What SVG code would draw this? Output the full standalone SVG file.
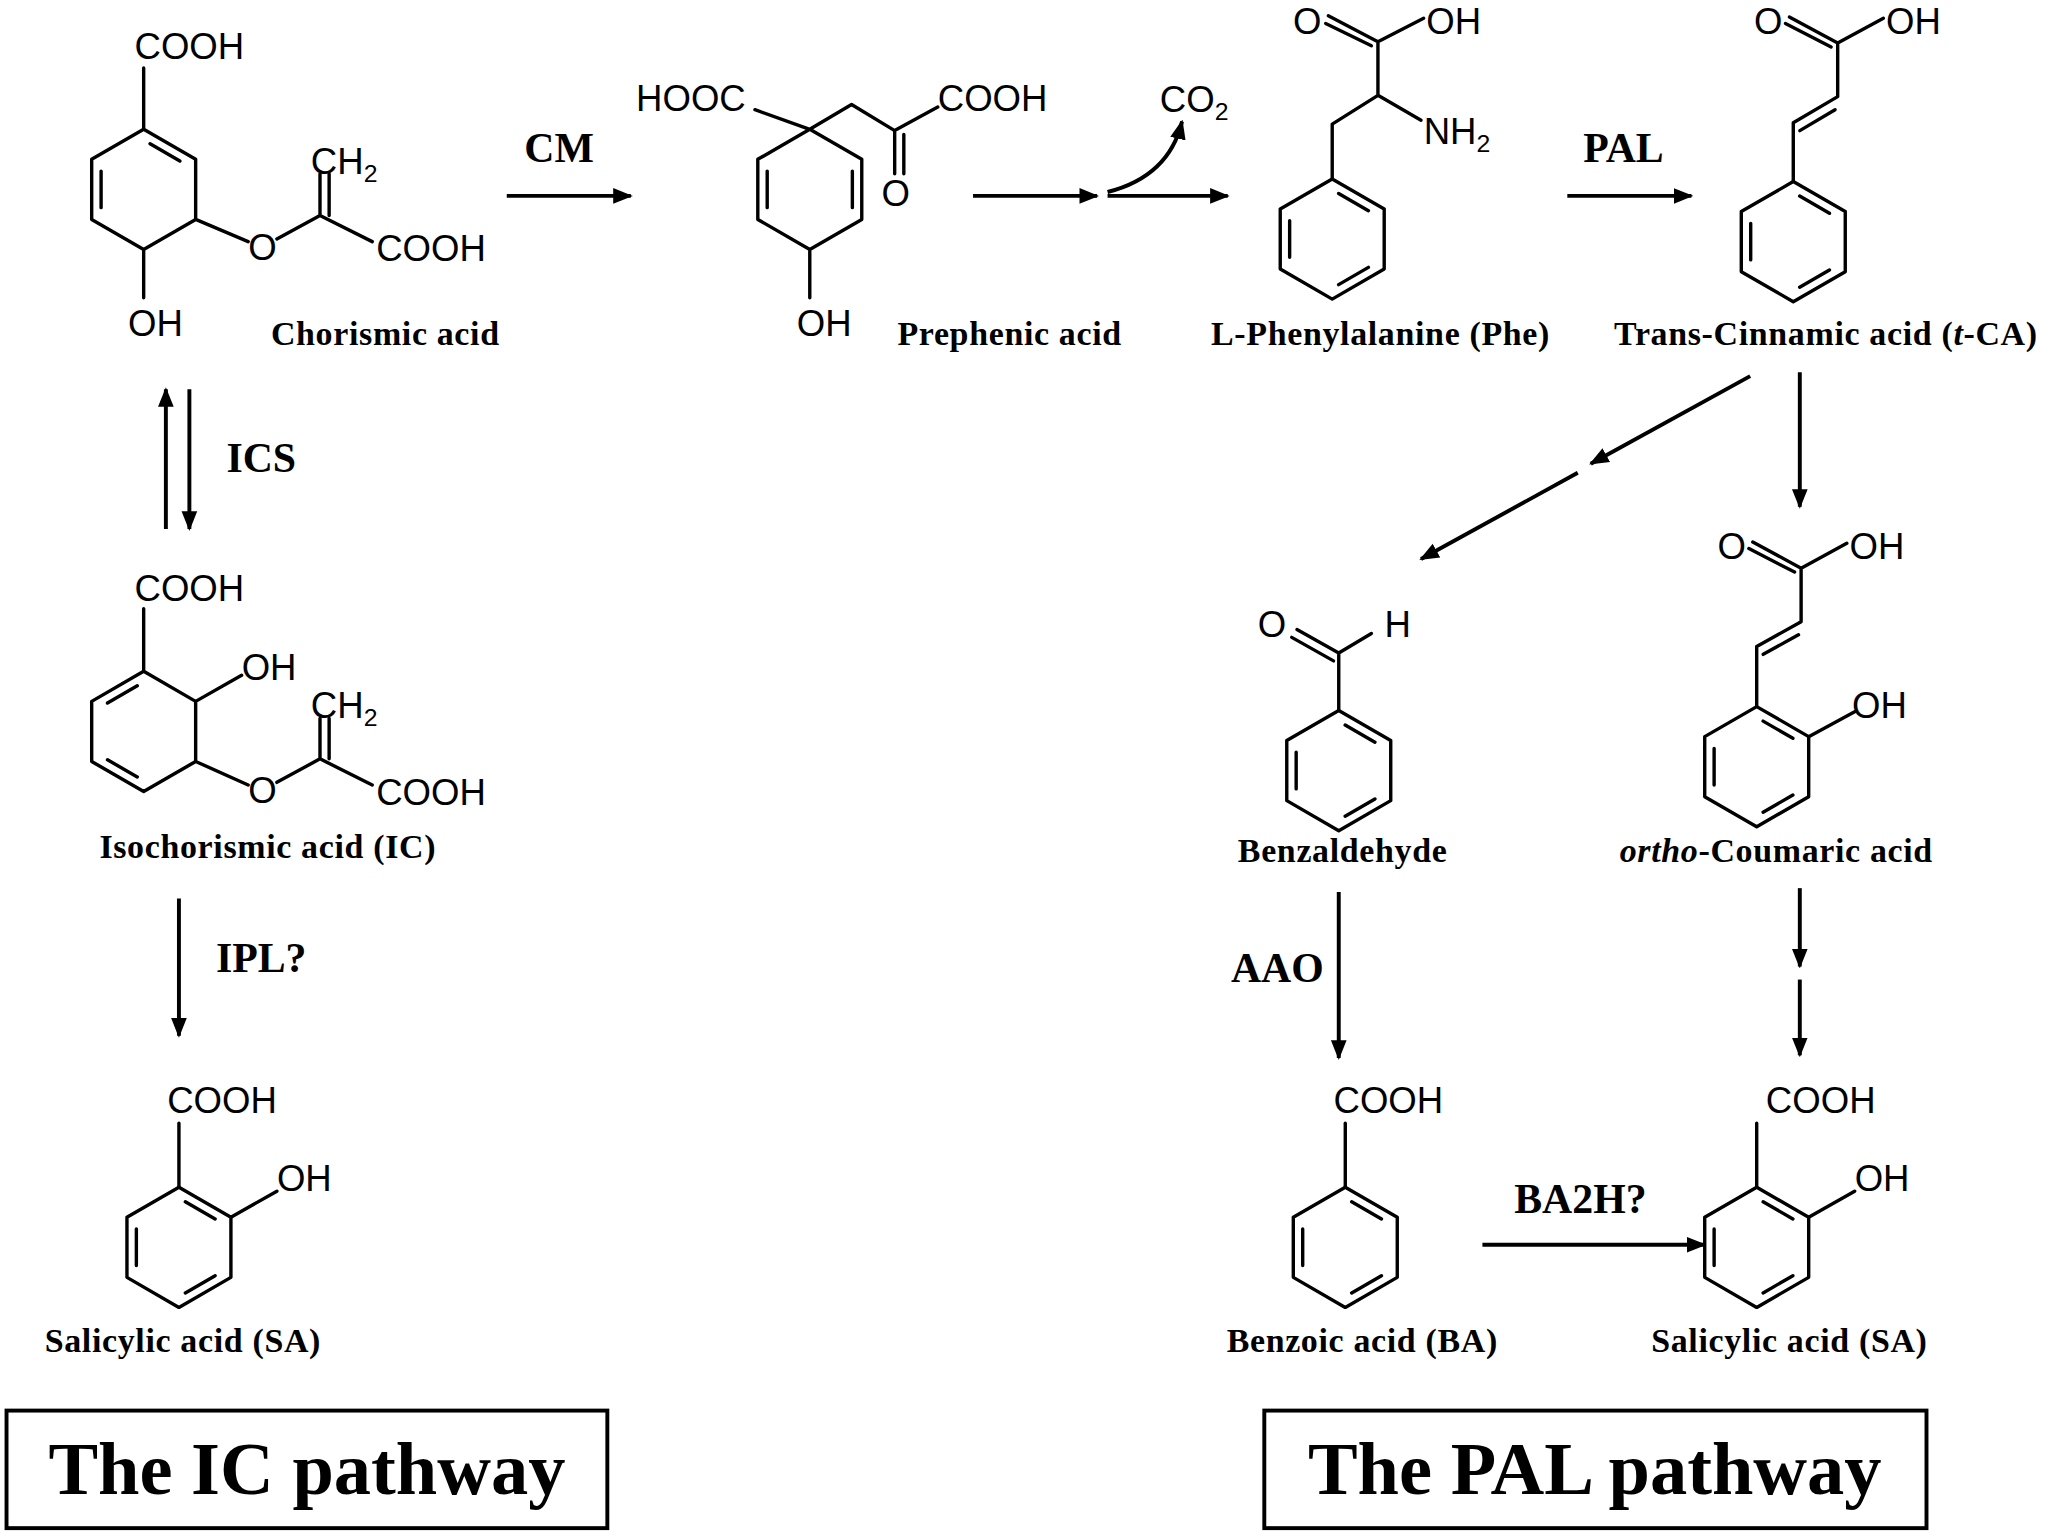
<svg xmlns="http://www.w3.org/2000/svg" xmlns:xlink="http://www.w3.org/1999/xlink" width="2048" height="1536" viewBox="0 0 2048 1536">
<style>
.b{fill:none;stroke:#000;stroke-width:2.6;stroke-linecap:round;stroke-linejoin:round}
.a{fill:none;stroke:#000;stroke-width:3}
.at{font-family:"Liberation Sans",Arial,sans-serif;font-size:28px;fill:#000}
.lb{font-family:"Liberation Serif","Times New Roman",serif;font-size:26px;font-weight:bold;fill:#000;text-anchor:middle;letter-spacing:0.5px}
.en{font-family:"Liberation Serif","Times New Roman",serif;font-size:32px;font-weight:bold;fill:#000;text-anchor:middle}
.ti{font-family:"Liberation Serif","Times New Roman",serif;font-size:57px;font-weight:bold;fill:#000;text-anchor:middle}
</style>
<defs>
<marker id="ar" viewBox="0 0 10 10" refX="9" refY="5" markerWidth="5" markerHeight="5" orient="auto" markerUnits="strokeWidth"><path d="M0,1 L10,5 L0,9 Z" fill="#000"/></marker>
<g id="bz"><path class="b" d="M0,-46 L39.8,-23 L39.8,23 L0,46 L-39.8,23 L-39.8,-23 Z M4.9,-34.9 L27.7,-21.7 M27.7,21.7 L4.9,34.9 M-32.6,14 L-32.6,-14"/></g>
</defs>
<rect width="2048" height="1536" fill="#fff"/>
<g transform="scale(1.3061)">
<g id="chorismic">
<path class="b" d="M110,99 L149.8,122 L149.8,168 L110,191 L70.2,168 L70.2,122 Z M77.4,131 L77.4,159 M114.9,110 L137.7,123.3 M110,99 L110,52 M149.8,168 L190,185 M212,183 L245,165 L285,185 M245,165 L245,133 M252,165 L252,133 M110,191 L110,228"/>
<text class="at" x="103" y="45">COOH</text><text class="at" x="190" y="199">O</text>
<text class="at" x="238" y="133">CH<tspan font-size="19" dy="6">2</tspan></text>
<text class="at" x="288" y="200">COOH</text><text class="at" x="98" y="257">OH</text>
<text class="lb" x="295" y="264">Chorismic acid</text></g>
<g id="prephenic">
<path class="b" d="M620,99 L659.8,122 L659.8,168 L620,191 L580.2,168 L580.2,122 Z M587.4,131 L587.4,159 M652.6,131 L652.6,159 M578,84 L620,99 L652,80 L685,100 L718,82 M685,100 L685,133 M692,103 L692,133 M620,191 L620,228"/>
<text class="at" x="487" y="85">HOOC</text><text class="at" x="718" y="85">COOH</text>
<text class="at" x="675" y="158">O</text><text class="at" x="610" y="257">OH</text>
<text class="lb" x="773" y="264">Prephenic acid</text></g>
<g id="phe">
<use href="#bz" transform="translate(1020,183)"/>
<path class="b" d="M1020,137 L1020,95 L1055,73 L1088,92 M1055,73 L1055,32 L1017,12 M1050,35 L1015,18 M1055,32 L1090,14"/>
<text class="at" x="990" y="26">O</text><text class="at" x="1092" y="26">OH</text>
<text class="at" x="1090" y="110">NH<tspan font-size="19" dy="6">2</tspan></text>
<text class="lb" x="1057" y="264">L-Phenylalanine (Phe)</text></g>
<g id="tca">
<use href="#bz" transform="translate(1373,185)"/>
<path class="b" d="M1373,139 L1373,94 L1407,74 L1407,33 L1370,13 M1402,36 L1367,18 M1407,33 L1442,14 M1378,100 L1405,84"/>
<text class="at" x="1343" y="26">O</text><text class="at" x="1444" y="26">OH</text>
<text class="lb" x="1398" y="264">Trans-Cinnamic acid (<tspan font-style="italic">t</tspan>-CA)</text></g>
<g id="isochorismic">
<path class="b" d="M110,514 L149.8,537 L149.8,583 L110,606 L70.2,583 L70.2,537 Z M82.3,538.3 L105.1,525.1 M105.1,594.9 L82.3,581.7 M110,514 L110,466 M149.8,537 L185,517 M149.8,583 L190,601 M212,599 L245,581 L285,601 M245,581 L245,550 M252,581 L252,550"/>
<text class="at" x="103" y="460">COOH</text><text class="at" x="185" y="521">OH</text><text class="at" x="190" y="615">O</text>
<text class="at" x="238" y="550">CH<tspan font-size="19" dy="6">2</tspan></text>
<text class="at" x="288" y="616">COOH</text>
<text class="lb" x="205" y="657">Isochorismic acid (IC)</text></g>
<g id="sa-left">
<use href="#bz" transform="translate(137,955)"/>
<path class="b" d="M137,909 L137,860 M176.8,932 L212,912"/>
<text class="at" x="128" y="852">COOH</text><text class="at" x="212" y="912">OH</text>
<text class="lb" x="140" y="1035">Salicylic acid (SA)</text></g>
<g id="benzaldehyde">
<use href="#bz" transform="translate(1025,590)"/>
<path class="b" d="M1025,544 L1025,500 L1050,485 M1025,500 L993,482 M1021,506 L989,488"/>
<text class="at" x="963" y="488">O</text><text class="at" x="1060" y="488">H</text>
<text class="lb" x="1028" y="660">Benzaldehyde</text></g>
<g id="coumaric">
<use href="#bz" transform="translate(1345,587)"/>
<path class="b" d="M1345,541 L1345,495 L1379,476 L1379,435 L1342,415 M1374,438 L1339,420 M1379,435 L1414,416 M1350,501 L1377,486 M1384.8,564 L1420,545"/>
<text class="at" x="1315" y="428">O</text><text class="at" x="1416" y="428">OH</text><text class="at" x="1418" y="550">OH</text>
<text class="lb" x="1360" y="660"><tspan font-style="italic">ortho</tspan>-Coumaric acid</text></g>
<g id="benzoic">
<use href="#bz" transform="translate(1030,955)"/>
<path class="b" d="M1030,909 L1030,860"/>
<text class="at" x="1021" y="852">COOH</text>
<text class="lb" x="1043" y="1035">Benzoic acid (BA)</text></g>
<g id="sa-right">
<use href="#bz" transform="translate(1345,955)"/>
<path class="b" d="M1345,909 L1345,860 M1384.8,932 L1420,912"/>
<text class="at" x="1352" y="852">COOH</text><text class="at" x="1420" y="912">OH</text>
<text class="lb" x="1370" y="1035">Salicylic acid (SA)</text></g>
<g id="connectors">
<line class="a" x1="388" y1="150" x2="483" y2="150" marker-end="url(#ar)"/>
<line class="a" x1="745" y1="150" x2="840" y2="150" marker-end="url(#ar)"/>
<line class="a" x1="848" y1="150" x2="940" y2="150" marker-end="url(#ar)"/>
<path class="a" d="M848,147 Q895,135 905,93" marker-end="url(#ar)"/>
<line class="a" x1="1200" y1="150" x2="1295" y2="150" marker-end="url(#ar)"/>
<line class="a" x1="127" y1="405" x2="127" y2="298" marker-end="url(#ar)"/>
<line class="a" x1="145" y1="298" x2="145" y2="405" marker-end="url(#ar)"/>
<line class="a" x1="137" y1="688" x2="137" y2="793" marker-end="url(#ar)"/>
<line class="a" x1="1340" y1="288" x2="1218" y2="355" marker-end="url(#ar)"/>
<line class="a" x1="1208" y1="362" x2="1088" y2="428" marker-end="url(#ar)"/>
<line class="a" x1="1378" y1="285" x2="1378" y2="388" marker-end="url(#ar)"/>
<line class="a" x1="1025" y1="683" x2="1025" y2="810" marker-end="url(#ar)"/>
<line class="a" x1="1378" y1="680" x2="1378" y2="740" marker-end="url(#ar)"/>
<line class="a" x1="1378" y1="750" x2="1378" y2="808" marker-end="url(#ar)"/>
<line class="a" x1="1135" y1="953" x2="1305" y2="953" marker-end="url(#ar)"/>
</g>
<g id="enzymes">
<text class="en" x="428" y="124">CM</text>
<text class="at" x="888" y="86">CO<tspan font-size="19" dy="6">2</tspan></text>
<text class="en" x="1243" y="124">PAL</text>
<text class="en" x="200" y="361">ICS</text>
<text class="en" x="200" y="744">IPL?</text>
<text class="en" x="978" y="752">AAO</text>
<text class="en" x="1210" y="929">BA2H?</text>
</g>
<g id="titles">
<rect x="5" y="1080" width="460" height="90" fill="none" stroke="#000" stroke-width="3"/>
<text class="ti" x="235" y="1144">The IC pathway</text>
<rect x="968" y="1080" width="507" height="90" fill="none" stroke="#000" stroke-width="3"/>
<text class="ti" x="1221" y="1144">The PAL pathway</text>
</g>
</g>
</svg>
